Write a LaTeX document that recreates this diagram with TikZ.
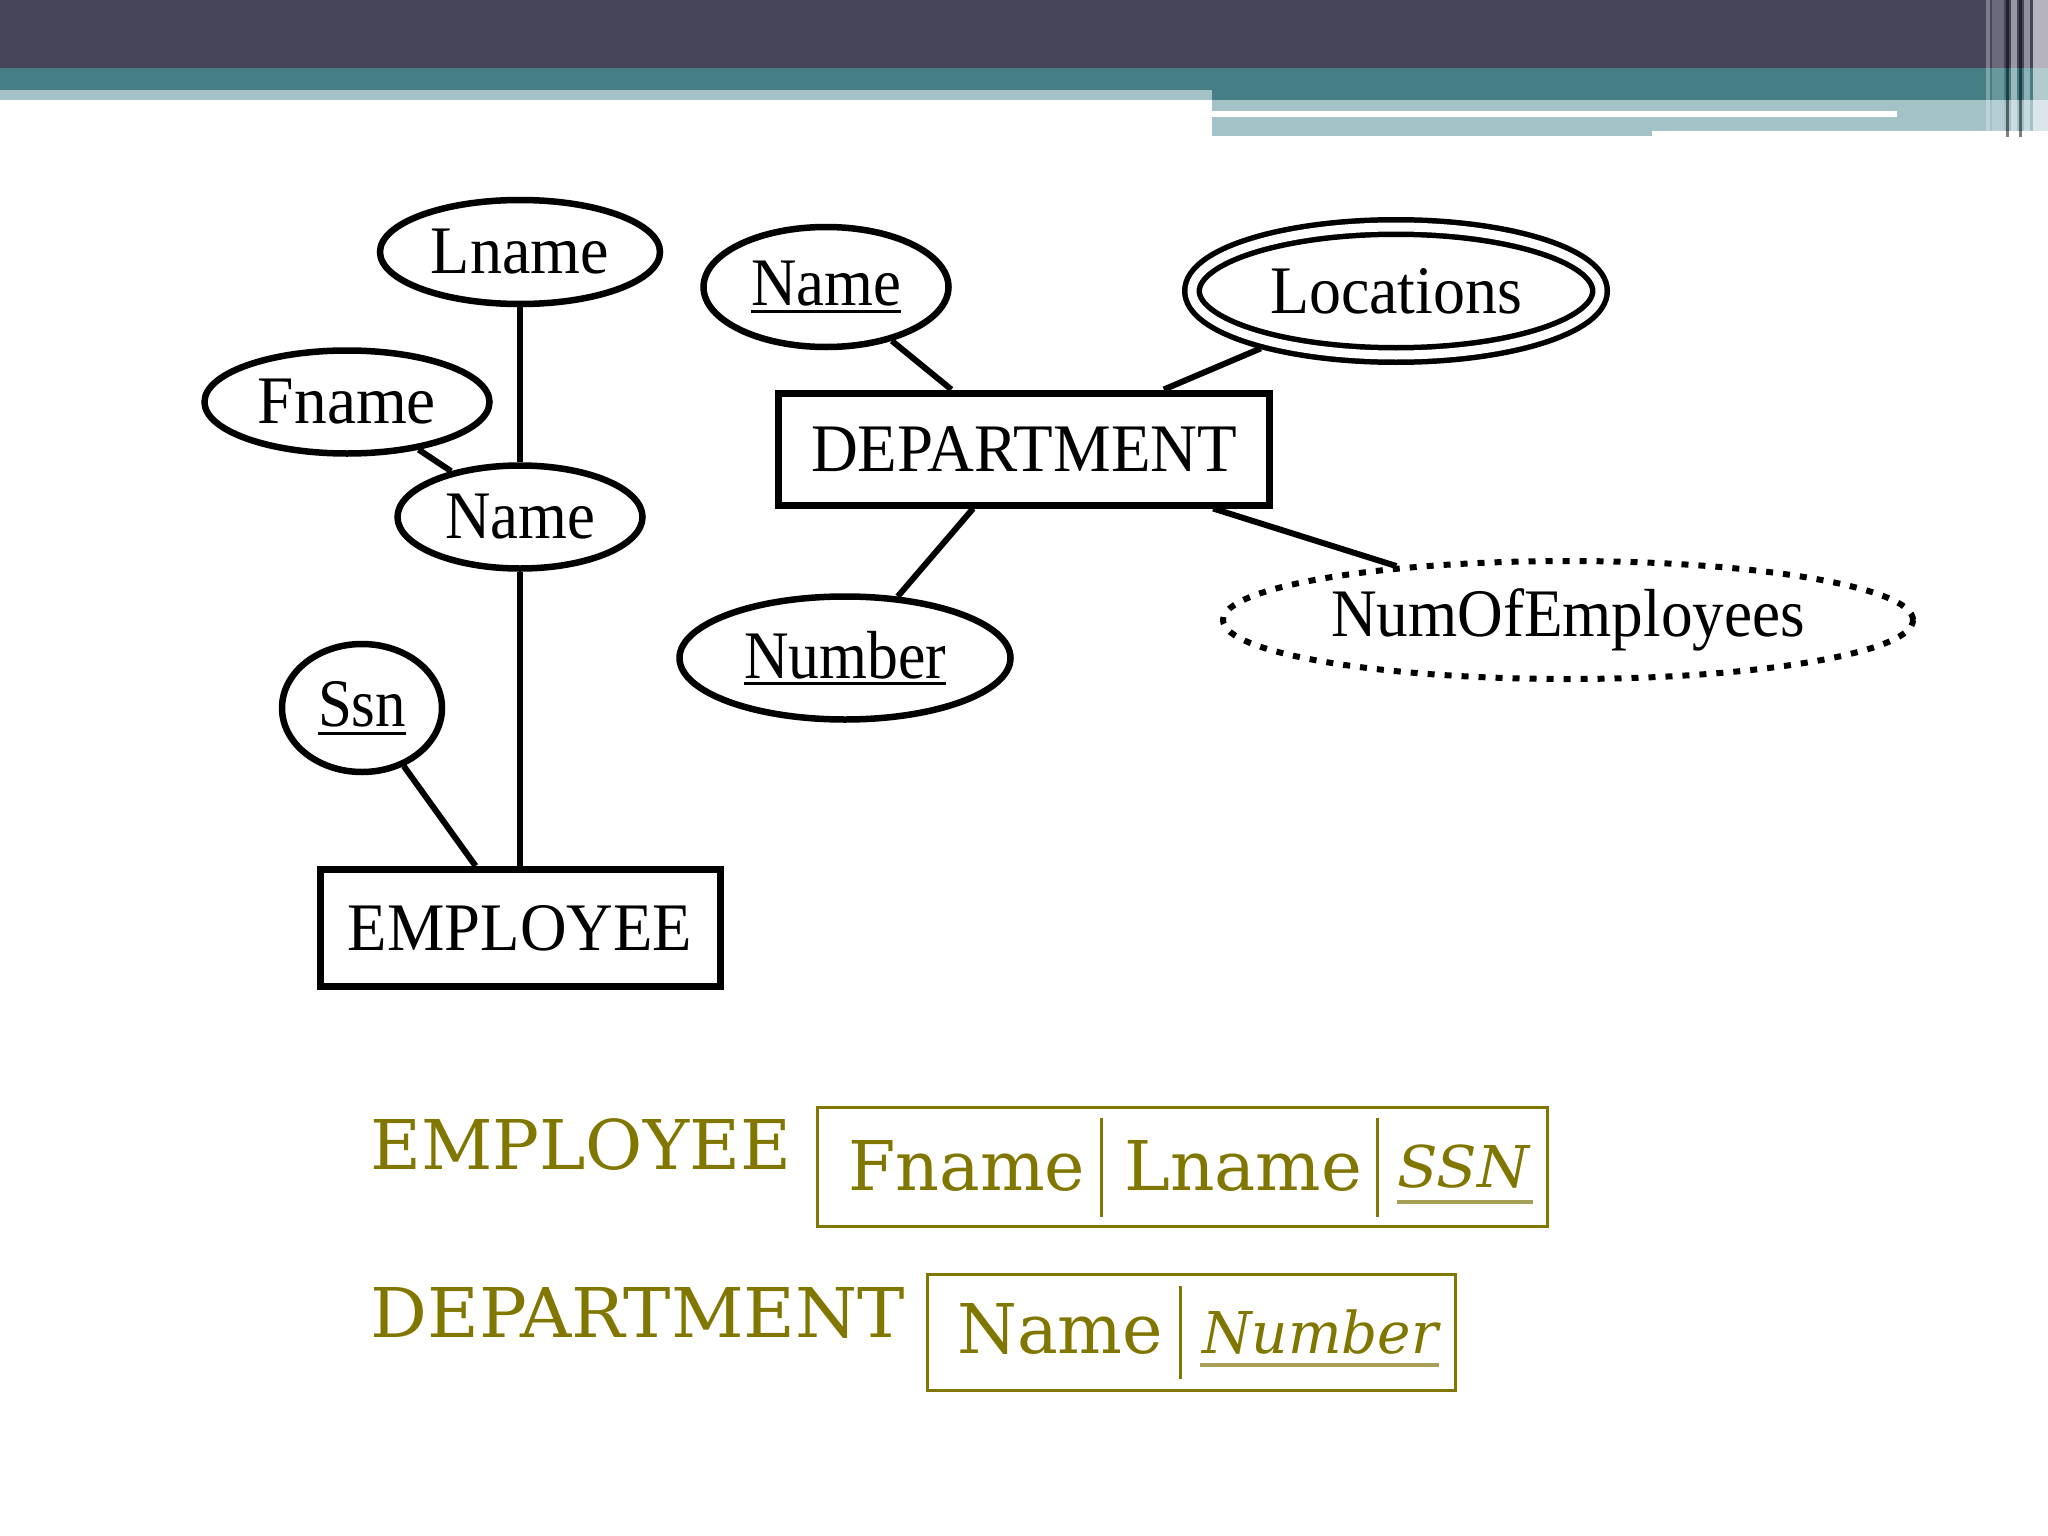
\documentclass[tikz,border=0pt]{standalone}
\usepackage{fontspec}
\setmainfont{Liberation Serif}
\newfontfamily\djv{DejaVu Serif}
\usetikzlibrary{shapes.geometric}
\definecolor{hdark}{RGB}{70,69,90}
\definecolor{hteal}{RGB}{69,126,132}
\definecolor{hlight}{RGB}{163,194,200}
\definecolor{olv}{RGB}{128,118,0}
\definecolor{olvl}{RGB}{165,160,85}
\newcommand\fitw[2]{\resizebox{#1}{\height}{#2}}
\newsavebox\ulbx
\newcommand\myul[3]{\sbox\ulbx{#3}\rlap{\rule[-#1]{\wd\ulbx}{#2}}\usebox\ulbx}
\newcommand\erf{\fontsize{68}{70}\selectfont}
\newcommand\olvf{\djv\fontsize{68.6}{70}\selectfont}
\newcommand\olvif{\djv\itshape\fontsize{57.6}{60}\selectfont}
\begin{document}
\begin{tikzpicture}[x=1pt,y=-1pt,
  attr/.style={ellipse, draw=black, line width=6.5pt, inner sep=0pt, font=\erf},
  ent/.style={rectangle, draw=black, line width=7pt, inner sep=0pt, font=\erf},
  conn/.style={line width=6pt},
  otext/.style={inner sep=0pt, anchor=base west, text=olv, font=\olvf},
  oitext/.style={inner sep=0pt, anchor=base west, text=olv, font=\olvif},
  obox/.style={draw=olv, line width=3pt, inner sep=0pt},
  osep/.style={draw=olv, line width=3pt},
  oul/.style={draw=olvl, line width=4pt}]
\useasboundingbox (0,0) rectangle (2048,1536);
\fill[white] (0,0) rectangle (2048,1536);
% header
\fill[hdark] (0,0) rectangle (2048,68);
\fill[hteal] (0,68) rectangle (2048,100);
\fill[hlight] (0,90) rectangle (1212,100);
\fill[hlight] (1212,100) rectangle (1652,136);
\fill[hlight] (1652,100) rectangle (2048,131);
\fill[white] (1212,111) rectangle (1897,117);
\fill[white, opacity=.3] (1986,0) rectangle (1990,132);
\fill[white, opacity=.2] (1992,0) rectangle (2004,132);
\fill[black, opacity=.5] (2006,0) rectangle (2009,137);
\fill[white, opacity=.45] (2011,0) rectangle (2017,137);
\fill[black, opacity=.5] (2019,0) rectangle (2022,137);
\fill[white, opacity=.4] (2024,0) rectangle (2030,137);
\fill[white, opacity=.6] (2033,0) rectangle (2048,137);
% ER diagram: EMPLOYEE
\node[attr, minimum width=280, minimum height=104] (lname) at (520,252) {\fitw{178pt}{Lname}};
\node[attr, minimum width=285, minimum height=103] (fname) at (347,402) {\fitw{178pt}{Fname}};
\node[attr, minimum width=245, minimum height=103] (ename) at (520,517) {\fitw{150pt}{Name}};
\node[attr, minimum width=160, minimum height=128] (ssn) at (362,708) {\fitw{88pt}{\myul{8pt}{3pt}{Ssn}}};
\node[ent, minimum width=400, minimum height=117] (emp) at (520,928) {\fitw{344pt}{EMPLOYEE}};
% ER diagram: DEPARTMENT
\node[attr, minimum width=245, minimum height=120] (dname) at (826,287) {\fitw{150pt}{\myul{7pt}{3pt}{Name}}};
\node[ent, minimum width=491, minimum height=112] (dept) at (1024,449) {\fitw{426pt}{DEPARTMENT}};
\node[attr, line width=5.5pt, double=white, double distance=9pt, outer sep=10pt, minimum width=408, minimum height=128] (loc) at (1396,291) {\fitw{252pt}{Locations}};
\node[attr, minimum width=331, minimum height=123] (number) at (845,658) {\fitw{202pt}{\myul{7pt}{3pt}{Number}}};
\node[attr, line width=6pt, dash pattern=on 7pt off 10pt, minimum width=690, minimum height=118] (numemp) at (1568,620) {\fitw{474pt}{NumOfEmployees}};
% connectors
\draw[conn] (lname) -- (ename);
\draw[conn] (fname) -- (ename);
\draw[conn] (ename) -- (emp);
\draw[conn] (ssn) -- (emp);
\draw[conn] (dname) -- (dept);
\draw[conn] (loc) -- (dept);
\draw[conn] (number) -- (dept);
\draw[conn] (numemp) -- (dept);
% relational schema
\node[otext] (lemp) at (370,1169) {\fitw{421pt}{EMPLOYEE}};
\node[otext] (ldept) at (370,1337) {\fitw{535pt}{DEPARTMENT}};
\node[obox, minimum width=730, minimum height=119] (r1) at (1182.5,1167) {};
\node[otext] (r1a) at (848,1190) {\fitw{237pt}{Fname}};
\draw[osep] (1101,1118) -- (1101,1217);
\node[otext] (r1b) at (1124,1190) {\fitw{238pt}{Lname}};
\draw[osep] (1377,1118) -- (1377,1217);
\node[oitext] (r1c) at (1397,1187) {\fitw{132pt}{SSN}};
\draw[oul] (1397,1202) -- (1533,1202);
\node[obox, minimum width=528, minimum height=116] (r2) at (1191.5,1332.5) {};
\node[otext] (r2a) at (957,1353) {\fitw{206pt}{Name}};
\draw[osep] (1180,1286) -- (1180,1379);
\node[oitext] (r2b) at (1202,1353) {\fitw{236pt}{Number}};
\draw[oul] (1200,1365) -- (1439,1365);
\end{tikzpicture}
\end{document}
